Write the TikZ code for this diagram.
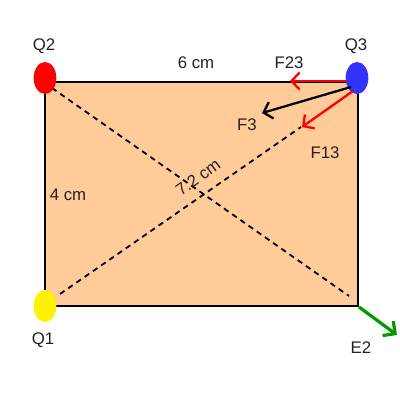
\documentclass[tikz,border=0pt]{standalone}
\usepackage{fontspec}
\setmainfont{Liberation Sans}
\usetikzlibrary{arrows.meta,shapes.geometric}
\definecolor{boxfill}{HTML}{FFCC99}
\definecolor{qblue}{HTML}{3333FF}
\definecolor{egreen}{HTML}{009900}
\definecolor{txt}{HTML}{222222}
\begin{document}
\begin{tikzpicture}[x=1pt,y=-1pt,
 lbl/.style={font=\fontsize{16.8}{20}\selectfont, text=txt, inner sep=0pt},
 charge/.style={ellipse, minimum width=22.7pt, minimum height=32pt, inner sep=0pt},
 diag/.style={line width=1.8pt, dash pattern=on 5.5pt off 4.5pt},
 force/.style={line width=2.3pt, -{Straight Barb[length=8pt,width=17pt]}}
]
\useasboundingbox (0,0) rectangle (400,400);
\node (box) [draw, line width=2pt, fill=boxfill, minimum width=313pt, minimum height=224pt, inner sep=0pt] at (201.5,194) {};
% diagonals
\coordinate (d1a) at (52,88);
\coordinate (d1b) at (349,296);
\coordinate (d2a) at (60,294);
\coordinate (d2b) at (301,127);
\draw[diag] (d1a) -- (d1b);
\draw[diag] (d2a) -- (d2b);
% charges
\node[charge, fill=red] (Q2) at (45,78) {};
\node[charge, fill=qblue] (Q3) at (357,78) {};
\node[charge, fill=yellow] (Q1) at (45,306) {};
% labels
\node[lbl] at (44,46) {Q2};
\node[lbl] at (356,46) {Q3};
\node[lbl] at (43,340) {Q1};
\node[lbl] at (361,348) {E2};
\node[lbl] at (196,63) {6 cm};
\node[lbl] at (68,195) {4 cm};
\node[lbl, rotate=36] at (198,177) {7.2 cm};
\node[lbl] at (289,63) {F23};
\node[lbl] at (247,125) {F3};
\node[lbl] at (325,153) {F13};
% forces
\coordinate (f23s) at (347,81);
\coordinate (f23t) at (290,81);
\coordinate (f3s) at (351,87);
\coordinate (f3t) at (262,113);
\coordinate (f13s) at (353,91);
\coordinate (f13t) at (302,127);
\coordinate (e2t) at (397,335);
\draw[force, red] (f23s) -- (f23t);
\draw[force, black] (f3s) -- (f3t);
\draw[force, red] (f13s) -- (f13t);
\draw[force, egreen, line width=3.2pt, -{Straight Barb[length=9pt,width=18pt]}] (box.south east) -- (e2t);
\end{tikzpicture}
\end{document}
